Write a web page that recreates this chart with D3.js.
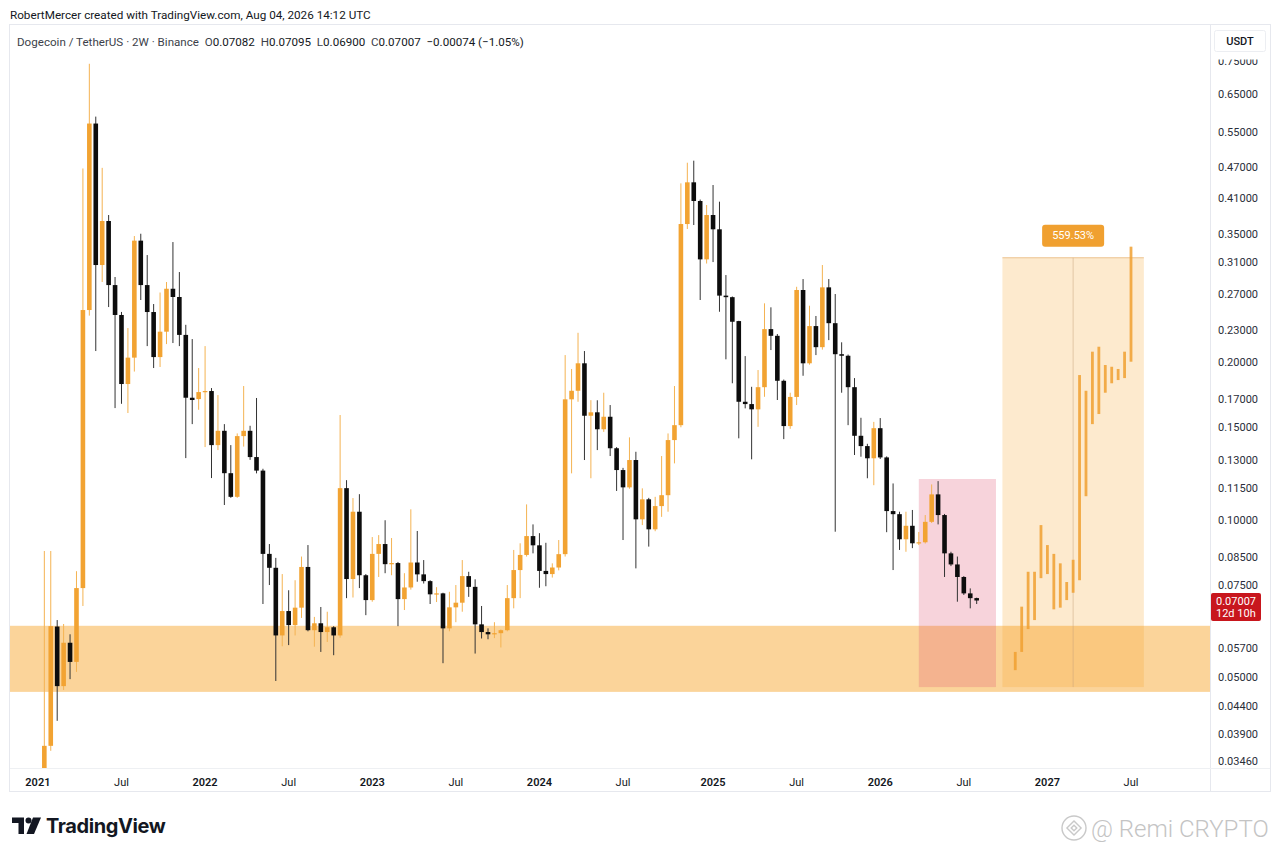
<!DOCTYPE html>
<html>
<head>
<meta charset="utf-8">
<script src="https://cdn.jsdelivr.net/npm/d3@7"></script>
<style>
  html, body { margin: 0; padding: 0; background: #fff; }
  svg { display: block; font-family: Roboto, "Noto Sans", sans-serif; }
</style>
</head>
<body>
<svg id="chart" width="1280" height="854"></svg>
<script>
// DOGE/USDT 2W candles, bar 0 opens 2021-01-04, one bar every 14 days
const firstBarDate = new Date(Date.UTC(2021, 0, 4));
const barDays = 14;
const firstCandleBar = 1;

const opens = [
  .0088,.0370,.0625,.0481,.0582,.0535,.0740,.2511,.5698,.3060,.3713,.2802,.2457,.1814,.2037,.3406,.2802,.2489,.2042,.2283,
  .2757,.2659,.2251,.1708,.1698,.1751,.1759,.1387,.1477,.1226,.1105,.1443,.1477,.1316,.1240,.0860,.0809,.0601,.0669,.0629,
  .0679,.0812,.0615,.0634,.0610,.0623,.0601,.1148,.0770,.1035,.0783,.0702,.0860,.0898,.0822,.0826,.0705,.0742,.0828,.0786,
  .0763,.0720,.0723,.0620,.0680,.0694,.0780,.0744,.0631,.0610,.0604,.0607,.0615,.0708,.0801,.0856,.0930,.0893,.0798,.0787,
  .0810,.0859,.1696,.1761,.1987,.1578,.1602,.1487,.1571,.1368,.1243,.1152,.1299,.1001,.1093,.0958,.1061,.1113,.1418,.1514,
  .3664,.4401,.4054,.3137,.3812,.3580,.2675,.2657,.2392,.1678,.1661,.1623,.1789,.2309,.2242,.1840,.1508,.1714,.2742,.1987,
  .2340,.2133,.2774,.2370,.2068,.2054,.1789,.1445,.1381,.1309,.1494,.1314,.1038,.1024,.0917,.0973,.0901,.0905,.0990,.1117,
  .1020,.0862,.0821,.0777,.0723,.07082
];
const highs = [
  .0871,.0871,.0643,.0632,.0604,.0797,.4677,.7409,.5874,.4690,.3812,.2903,.2490,.2320,.3476,.3511,.3197,.2578,.2712,.2840,
  .3385,.2967,.2353,.2210,.1946,.2143,.1782,.1728,.1521,.1387,.1460,.1798,.1510,.1706,.1250,.0898,.0845,.0787,.0733,.0766,
  .0850,.0894,.0652,.0681,.0667,.0626,.1583,.1189,.1099,.1118,.0787,.0926,.0934,.0997,.0922,.0830,.0790,.1046,.0951,.0837,
  .0766,.0743,.0725,.0728,.0750,.0837,.0795,.0769,.0684,.0620,.0637,.0617,.0750,.0875,.0901,.1069,.0979,.0942,.0903,.0825,
  .0914,.2060,.1938,.2272,.2097,.1690,.1689,.1746,.1654,.1375,.1255,.1435,.1347,.1147,.1100,.1105,.1322,.1460,.1798,.4381,
  .4797,.4840,.4080,.3983,.4349,.4042,.2928,.2665,.2395,.2051,.1792,.1929,.2586,.2541,.2260,.1850,.1746,.2781,.2877,.2559,
  .2446,.3060,.2877,.2694,.2179,.2065,.1862,.1564,.1395,.1536,.1562,.1320,.1172,.1035,.1035,.1043,.0947,.1020,.1167,.1184,
  .1025,.0868,.0850,.0780,.0739,.07095
];
const lows = [
  .0072,.0362,.0413,.0473,.0496,.0512,.0684,.2450,.2097,.2840,.2544,.1632,.1663,.1597,.1916,.2624,.2143,.1946,.1955,.2162,
  .2172,.2143,.1310,.1521,.1620,.1375,.1200,.1357,.1066,.1100,.1100,.1378,.1300,.1225,.0690,.0750,.0492,.0573,.0576,.0601,
  .0649,.0612,.0572,.0559,.0584,.0551,.0595,.0708,.0710,.0740,.0657,.0697,.0777,.0790,.0783,.0626,.0672,.0735,.0761,.0755,
  .0690,.0696,.0532,.0612,.0637,.0667,.0712,.0555,.0593,.0591,.0594,.0570,.0612,.0677,.0708,.0850,.0862,.0741,.0746,.0775,
  .0800,.0850,.1225,.1678,.1299,.1199,.1357,.1470,.1322,.1134,.0914,.1145,.0807,.0976,.0888,.0950,.1012,.1035,.1280,.1500,
  .3585,.3648,.2624,.3080,.3100,.2492,.2022,.1820,.1429,.1630,.1303,.1503,.1715,.2106,.1691,.1424,.1490,.1654,.1881,.1975,
  .2060,.2110,.2200,.0948,.1746,.1514,.1328,.1318,.1199,.1163,.1305,.0946,.0801,.0875,.0868,.0882,.0894,.0900,.0985,.0979,
  .0777,.0815,.0697,.0718,.0677,.06900
];
const closes = [
  .0370,.0626,.0481,.0582,.0535,.0740,.2511,.5698,.3060,.3713,.2802,.2457,.1814,.2037,.3406,.2802,.2489,.2042,.2283,.2757,
  .2659,.2251,.1708,.1691,.1751,.1759,.1387,.1477,.1226,.1105,.1443,.1477,.1316,.1240,.0860,.0809,.0601,.0669,.0629,.0679,
  .0812,.0615,.0634,.0610,.0623,.0601,.1148,.0770,.1035,.0783,.0702,.0860,.0898,.0822,.0826,.0705,.0742,.0828,.0786,.0763,
  .0720,.0723,.0620,.0680,.0694,.0780,.0744,.0631,.0610,.0604,.0607,.0615,.0708,.0801,.0856,.0930,.0893,.0798,.0787,.0810,
  .0859,.1696,.1761,.1987,.1578,.1602,.1487,.1571,.1368,.1243,.1152,.1299,.1001,.1093,.0958,.1061,.1113,.1418,.1514,.3664,
  .4401,.4054,.3137,.3812,.3580,.2675,.2657,.2385,.1678,.1661,.1623,.1789,.2309,.2242,.1840,.1508,.1714,.2742,.1987,.2340,
  .2133,.2774,.2370,.2068,.2054,.1789,.1445,.1381,.1309,.1494,.1314,.1038,.1024,.0917,.0973,.0901,.0905,.0990,.1117,.1020,
  .0862,.0821,.0777,.0723,.0708,.07007
];

// projected "ghost" bars drawn on the chart
const ghostFirstBar = 152;
const ghostHighs = [.0559,.0682,.0795,.0795,.0976,.0894,.0860,.0825,.0760,.0838,.1887,.1761,.2091,.2137,.1972,.1957,.1938,.2091,.3317];
const ghostLows  = [.0516,.0559,.0618,.0643,.0773,.0787,.0674,.0679,.0702,.0725,.0766,.1108,.1521,.1590,.1746,.1820,.1846,.1862,.2001];

// drawings: support band, pink range, projected price range
const supportZone = [0.0469, 0.0627];
const pinkZone = { bars: [137, 149], prices: [0.0479, 0.1195] };
const rangeZone = { bars: [150, 172], midBar: 161, prices: [0.0479, 0.3159], label: '559.53%' };

const yTicks = [0.75, 0.65, 0.55, 0.47, 0.41, 0.35, 0.31, 0.27, 0.23, 0.20, 0.17, 0.15, 0.13, 0.115, 0.10,
  0.085, 0.075, 0.057, 0.05, 0.044, 0.039, 0.0346];

const lastPrice = { value: 0.07007, countdown: '12d 10h' };
const creditText = 'RobertMercer created with TradingView.com, Aug 04, 2026 14:12 UTC';
const symbolText = 'Dogecoin / TetherUS · 2W · Binance';
const ohlcText = [['O', '0.07082'], ['H', '0.07095'], ['L', '0.06900'], ['C', '0.07007'], ['', '−0.00074 (−1.05%)']];

const barDate = i => new Date(firstBarDate.getTime() + i * barDays * 86400000);

class CandleChart {
  constructor(_config) {
    this.config = {
      parentElement: _config.parentElement,
      plot: { left: 10, right: 1210, top: 25, bottom: 768 },
      ..._config
    };
    this.initVis();
  }

  initVis() {
    const vis = this;
    const p = vis.config.plot;
    vis.svg = d3.select(vis.config.parentElement);

    const up = '#f2a332', down = '#0d0d0d';

    // scales: bar spacing 6.43px, log price axis
    vis.x = d3.scaleUtc()
      .domain([barDate(0), barDate(146)])
      .range([37.9, 37.9 + 146 * 6.43]);
    vis.y = d3.scaleLog().domain([0.0346, 0.75]).range([761.1, 61]);
    const bx = i => vis.x(barDate(i));

    // pane frame
    vis.svg.append('rect')
      .attr('x', 9.5).attr('y', 24.5).attr('width', 1261).attr('height', 767)
      .attr('fill', 'none').attr('stroke', '#e6e8ee');
    vis.svg.append('line')
      .attr('x1', p.right + 0.5).attr('x2', p.right + 0.5).attr('y1', 25).attr('y2', 791)
      .attr('stroke', '#e6e8ee');
    vis.svg.append('line')
      .attr('x1', 10).attr('x2', 1270).attr('y1', p.bottom + 0.5).attr('y2', p.bottom + 0.5)
      .attr('stroke', '#eef0f3');

    vis.svg.append('clipPath').attr('id', 'plotClip')
      .append('rect').attr('x', p.left).attr('y', p.top)
      .attr('width', p.right - p.left).attr('height', p.bottom - p.top);
    const g = vis.svg.append('g').attr('clip-path', 'url(#plotClip)');

    // support band across the whole pane
    g.append('rect')
      .attr('x', p.left).attr('width', p.right - p.left)
      .attr('y', vis.y(supportZone[1]))
      .attr('height', vis.y(supportZone[0]) - vis.y(supportZone[1]))
      .attr('fill', '#f7a01e').attr('fill-opacity', 0.45);

    // pink box
    g.append('rect')
      .attr('x', bx(pinkZone.bars[0])).attr('width', bx(pinkZone.bars[1]) - bx(pinkZone.bars[0]))
      .attr('y', vis.y(pinkZone.prices[1]))
      .attr('height', vis.y(pinkZone.prices[0]) - vis.y(pinkZone.prices[1]))
      .attr('fill', '#e1506e').attr('fill-opacity', 0.25);

    // price range box
    const rx0 = bx(rangeZone.bars[0]), rx1 = bx(rangeZone.bars[1]);
    const ryTop = vis.y(rangeZone.prices[1]), ryBot = vis.y(rangeZone.prices[0]);
    g.append('rect')
      .attr('x', rx0).attr('width', rx1 - rx0)
      .attr('y', ryTop).attr('height', ryBot - ryTop)
      .attr('fill', '#f7a01e').attr('fill-opacity', 0.22);
    g.append('line')
      .attr('x1', rx0).attr('x2', rx1).attr('y1', ryTop).attr('y2', ryTop)
      .attr('stroke', '#ecc28e').attr('stroke-width', 1);
    g.append('line')
      .attr('x1', bx(rangeZone.midBar)).attr('x2', bx(rangeZone.midBar))
      .attr('y1', ryTop).attr('y2', ryBot)
      .attr('stroke', '#c9a27a').attr('stroke-width', 0.8).attr('stroke-opacity', 0.6);

    // candles
    const candles = opens.map((o, i) => ({
      bar: firstCandleBar + i, o, h: highs[i], l: lows[i], c: closes[i]
    }));
    const cg = g.selectAll('g.candle').data(candles).join('g').attr('class', 'candle');
    cg.append('line')
      .attr('x1', d => bx(d.bar)).attr('x2', d => bx(d.bar))
      .attr('y1', d => vis.y(d.h)).attr('y2', d => vis.y(d.l))
      .attr('stroke', d => d.c >= d.o ? '#f4b352' : '#333')
      .attr('stroke-width', 1);
    cg.append('rect')
      .attr('x', d => bx(d.bar) - 2.3).attr('width', 4.6)
      .attr('y', d => vis.y(Math.max(d.o, d.c)))
      .attr('height', d => Math.max(1.2, vis.y(Math.min(d.o, d.c)) - vis.y(Math.max(d.o, d.c))))
      .attr('fill', d => d.c >= d.o ? up : down);

    // ghost projection bars
    g.selectAll('rect.ghost')
      .data(ghostHighs.map((h, i) => ({ bar: ghostFirstBar + i, h, l: ghostLows[i] })))
      .join('rect').attr('class', 'ghost')
      .attr('x', d => bx(d.bar) - 1.4).attr('width', 2.8)
      .attr('y', d => vis.y(d.h))
      .attr('height', d => vis.y(d.l) - vis.y(d.h))
      .attr('fill', '#f0a030').attr('fill-opacity', 0.85);

    // range label
    const lx = bx(rangeZone.midBar);
    vis.svg.append('rect')
      .attr('x', lx - 31).attr('y', ryTop - 33).attr('width', 62).attr('height', 22)
      .attr('rx', 3).attr('fill', '#f0a030');
    vis.svg.append('text')
      .attr('x', lx).attr('y', ryTop - 18.5)
      .attr('text-anchor', 'middle').attr('fill', '#fff')
      .attr('font-size', 11).text(rangeZone.label);

    vis.drawAxes();
    vis.drawTexts();
  }

  drawAxes() {
    const vis = this;
    const p = vis.config.plot;

    // price axis labels, clipped (in the axis group's own coordinates) below the currency box
    vis.svg.append('clipPath').attr('id', 'axisClip')
      .append('rect').attr('x', 1).attr('y', 59.5).attr('width', 60).attr('height', p.bottom - 59.5);
    const yAxis = d3.axisRight(vis.y)
      .tickValues(yTicks)
      .tickFormat(d3.format('.5f'))
      .tickSize(0).tickPadding(8);
    const ya = vis.svg.append('g')
      .attr('transform', `translate(${p.right},0)`)
      .attr('clip-path', 'url(#axisClip)')
      .call(yAxis);
    ya.select('.domain').remove();
    ya.selectAll('text').attr('fill', '#2a2e39').attr('font-size', 11)
      .attr('font-family', 'Roboto, sans-serif');

    // currency box
    vis.svg.append('rect')
      .attr('x', 1214.5).attr('y', 30.5).attr('width', 51).attr('height', 21).attr('rx', 2)
      .attr('fill', '#fff').attr('stroke', '#eceef2');
    vis.svg.append('text')
      .attr('x', 1240).attr('y', 45).attr('text-anchor', 'middle')
      .attr('font-size', 11).attr('font-weight', 500).attr('fill', '#131722').text('USDT');

    // last price tag
    const ly = vis.y(lastPrice.value);
    vis.svg.append('rect')
      .attr('x', 1211).attr('y', ly - 7.5).attr('width', 50).attr('height', 28).attr('rx', 2)
      .attr('fill', '#c8161d');
    vis.svg.append('text')
      .attr('x', 1216).attr('y', ly + 4).attr('font-size', 11).attr('fill', '#fff')
      .text(d3.format('.5f')(lastPrice.value));
    vis.svg.append('text')
      .attr('x', 1216).attr('y', ly + 16.5).attr('font-size', 11).attr('fill', '#fff')
      .text(lastPrice.countdown);

    // time axis: first bar of each January / July
    const ticks = [];
    for (let i = 0; i <= 182; i++) {
      const d = barDate(i), prev = barDate(i - 1);
      const m = d.getUTCMonth();
      if (m !== prev.getUTCMonth() && (m === 0 || m === 6)) ticks.push(d);
    }
    vis.svg.append('g').selectAll('text')
      .data(ticks)
      .join('text')
      .attr('x', d => vis.x(d))
      .attr('y', 785.5)
      .attr('text-anchor', 'middle')
      .attr('font-size', 11)
      .attr('font-weight', d => d.getUTCMonth() === 0 ? 600 : 400)
      .attr('fill', '#131722')
      .text(d => d.getUTCMonth() === 0 ? d.getUTCFullYear() : 'Jul');
  }

  drawTexts() {
    const vis = this;

    vis.svg.append('text')
      .attr('x', 10).attr('y', 19)
      .attr('font-size', 11.7).attr('fill', '#131722')
      .text(creditText);

    const hdr = vis.svg.append('text')
      .attr('x', 17).attr('y', 45.5)
      .attr('font-size', 11.6).attr('fill', '#131722')
      .attr('xml:space', 'preserve');
    hdr.append('tspan').attr('fill', '#3c3f4a').text(symbolText + '  ');
    ohlcText.forEach(([k, v]) => {
      hdr.append('tspan').attr('fill', '#3c3f4a').text(k);
      hdr.append('tspan').attr('fill', '#131722').text(v + '  ');
    });

    // TradingView logo + wordmark
    const logo = vis.svg.append('g').attr('fill', '#131722');
    logo.append('path').attr('d', 'M12,817.5 H24 V834 H18.5 V823 H12 Z');
    logo.append('circle').attr('cx', 28.5).attr('cy', 820.5).attr('r', 3);
    logo.append('path').attr('d', 'M33,817.5 H41 L34,834 H26.5 Z');
    vis.svg.append('text')
      .attr('x', 46).attr('y', 833)
      .attr('font-family', 'Inter, Roboto, sans-serif')
      .attr('font-size', 20).attr('font-weight', 700).attr('letter-spacing', -0.4)
      .attr('fill', '#131722').text('TradingView');

    // watermark
    const wm = vis.svg.append('g').attr('stroke', '#c9c9c9').attr('fill', 'none').attr('stroke-width', 1.4);
    wm.append('circle').attr('cx', 1074).attr('cy', 828).attr('r', 12);
    wm.append('rect').attr('x', 1069).attr('y', 823).attr('width', 10).attr('height', 10)
      .attr('transform', 'rotate(45 1074 828)');
    wm.append('rect').attr('x', 1072).attr('y', 826).attr('width', 4).attr('height', 4)
      .attr('transform', 'rotate(45 1074 828)');
    vis.svg.append('text')
      .attr('x', 1091).attr('y', 837)
      .attr('font-size', 24).attr('font-weight', 300)
      .attr('fill', '#c4c4c4').text('@ Remi CRYPTO');
  }
}

new CandleChart({ parentElement: '#chart' });
</script>
</body>
</html>
